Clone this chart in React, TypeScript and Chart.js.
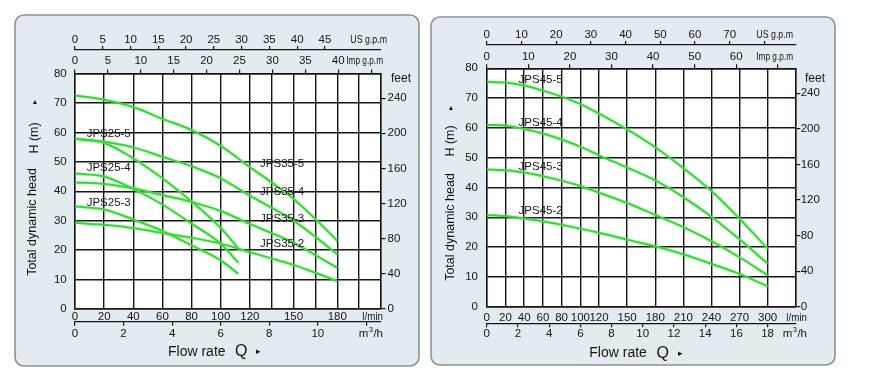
import React, { useEffect, useRef } from 'react';
import { Chart, registerables } from 'chart.js';

Chart.register(...registerables);

const SANS = '"Liberation Sans", Arial, Helvetica, sans-serif';
const INK = '#151515';
const CURVE = 'rgb(56, 214, 56)';
const PANEL_BG = '#e2ebf0';
const PANEL_BORDER = '#87939a';

// ---------------- Left panel: JPS25 / JPS35 ----------------
const flowJPS35 = [0, 20, 40, 60, 80, 100, 120, 135, 150, 165, 180];
const headJPS35_5 = [72.5, 71.1, 68.6, 64.6, 60.8, 55.4, 48.2, 43.0, 37.4, 30.6, 23.2];
const headJPS35_4 = [57.8, 56.8, 54.9, 51.7, 48.5, 44.4, 38.5, 34.4, 30.0, 24.5, 18.6];
const headJPS35_3 = [43.0, 42.5, 41.0, 38.7, 36.4, 33.3, 28.9, 25.8, 22.5, 18.3, 14.0];
const headJPS35_2 = [29.3, 28.6, 27.5, 25.8, 24.2, 22.2, 19.3, 17.2, 15.0, 12.3, 9.5];
const flowJPS25 = [0, 20, 40, 60, 80, 100, 112];
const headJPS25_5 = [57.8, 56.4, 51.2, 44.4, 36.5, 27.5, 20.6];
const headJPS25_4 = [46.0, 45.0, 40.8, 35.5, 29.0, 22.2, 15.7];
const headJPS25_3 = [34.8, 33.8, 30.4, 26.5, 21.6, 16.5, 12.0];

const curveNamesL = ['JPS25-5', 'JPS25-4', 'JPS25-3', 'JPS35-5', 'JPS35-4', 'JPS35-3', 'JPS35-2'];
const curveLabelFlowL = [8, 8, 8, 127, 127, 127, 127];
const curveLabelHeadL = [59.4, 47.8, 35.9, 49.3, 39.8, 30.6, 22.1];

const lpmTicksL = [0, 20, 40, 60, 80, 100, 120, 135, 150, 165, 180, 195, 210];
const lpmLabelsL = ['0', '20', '40', '60', '80', '100', '120', '', '150', '', '180', '', ''];
const m3hTicksL = [0, 2, 4, 6, 8, 10, 12];
const m3hLabelsL = ['0', '2', '4', '6', '8', '10', ''];
const usTicksL = [0, 5, 10, 15, 20, 25, 30, 35, 40, 45];
const usLabelsL = ['0', '5', '10', '15', '20', '25', '30', '35', '40', '45'];
const impTicksL = [0, 5, 10, 15, 20, 25, 30, 35, 40, 45];
const impLabelsL = ['0', '5', '10', '15', '20', '25', '30', '35', '40', ''];

// ---------------- Right panel: JPS45 ----------------
const flowJPS45 = [0, 20, 40, 60, 80, 100, 120, 150, 180, 210, 240, 270, 300];
const headJPS45_5 = [75.5, 75.2, 74.2, 72.5, 70.5, 68.0, 64.8, 59.5, 53.5, 46.5, 38.8, 29.5, 19.5];
const headJPS45_4 = [61.0, 60.8, 59.6, 58.1, 56.1, 53.7, 50.8, 46.7, 42.4, 36.8, 30.2, 22.6, 14.5];
const headJPS45_3 = [46.0, 45.8, 45.0, 43.8, 42.3, 40.5, 38.3, 34.8, 30.8, 26.7, 22.0, 16.6, 10.6];
const headJPS45_2 = [30.8, 30.4, 29.6, 28.7, 27.5, 26.2, 24.8, 22.5, 20.3, 17.6, 14.4, 11.0, 6.8];

const curveNamesR = ['JPS45-5', 'JPS45-4', 'JPS45-3', 'JPS45-2'];
const curveLabelFlowR = [34, 34, 34, 34];
const curveLabelHeadR = [76.1, 61.7, 46.8, 32.1];

const lpmTicksR = [0, 20, 40, 60, 80, 100, 120, 150, 180, 210, 240, 270, 300, 330];
const lpmLabelsR = ['0', '20', '40', '60', '80', '100', '120', '150', '180', '210', '240', '270', '300', ''];
const m3hTicksR = [0, 2, 4, 6, 8, 10, 12, 14, 16, 18];
const m3hLabelsR = ['0', '2', '4', '6', '8', '10', '12', '14', '16', '18'];
const usTicksR = [0, 10, 20, 30, 40, 50, 60, 70, 80];
const usLabelsR = ['0', '10', '20', '30', '40', '50', '60', '70', ''];
const impTicksR = [0, 10, 20, 30, 40, 50, 60, 70];
const impLabelsR = ['0', '10', '20', '30', '40', '50', '60', ''];

// shared
const headTicks = [0, 10, 20, 30, 40, 50, 60, 70, 80];
const headLabels = ['0', '10', '20', '30', '40', '50', '60', '70', '80'];
const feetTicks = [0, 40, 80, 120, 160, 200, 240];
const feetLabels = ['0', '40', '80', '120', '160', '200', '240'];

type Series = { flow: number[]; head: number[] };
type TextSpec = { t: string; x: number; y: number; size: number; align?: CanvasTextAlign; sx?: number; rot?: number };

interface PanelCfg {
  left: number; top: number; w: number; h: number;
  series: Series[];
  names: string[]; nameFlow: number[]; nameHead: number[];
  lpmMax: number; lpmTicks: number[]; lpmLabels: string[];
  m3hMax: number; m3hTicks: number[]; m3hLabels: string[];
  usMax: number; usTicks: number[]; usLabels: string[];
  impMax: number; impTicks: number[]; impLabels: string[];
  feetMax: number;
  yW: number; ftW: number; usH: number; impH: number; lpmH: number; m3hH: number;
  padY: number; padFt: number; padUs: number; padImp: number; padLpm: number; padM3h: number;
  texts: TextSpec[];
  m3hUnit: { x: number; y: number };
}

const tickFont = { family: SANS, size: 11.5, lineHeight: 1 };

function fixedSize(size: number) {
  return (s: any) => {
    if (s.isHorizontal()) s.height = size;
    else s.width = size;
  };
}
function setTicks(vals: number[]) {
  return (s: any) => {
    s.ticks = vals.map((v) => ({ value: v }));
  };
}
function labeler(labels: string[]) {
  return (_v: any, i: number) => labels[i] ?? '';
}

function drawText(ctx: CanvasRenderingContext2D, s: TextSpec) {
  ctx.save();
  ctx.translate(s.x, s.y);
  if (s.rot) ctx.rotate(s.rot);
  ctx.scale(s.sx ?? 1, 1);
  ctx.font = `${s.size}px ${SANS}`;
  ctx.textAlign = s.align ?? 'left';
  ctx.textBaseline = 'middle';
  ctx.fillStyle = INK;
  ctx.fillText(s.t, 0, 0);
  ctx.restore();
}

function drawM3h(ctx: CanvasRenderingContext2D, xRight: number, y: number) {
  const f = 11.5;
  ctx.save();
  ctx.fillStyle = INK;
  ctx.textBaseline = 'middle';
  ctx.textAlign = 'left';
  ctx.font = `${f}px ${SANS}`;
  const wm = ctx.measureText('m').width;
  const ws = ctx.measureText('/h').width;
  ctx.font = `${f * 0.65}px ${SANS}`;
  const w3 = ctx.measureText('3').width;
  let x = xRight - (wm + w3 + ws + 1);
  ctx.font = `${f}px ${SANS}`;
  ctx.fillText('m', x, y);
  x += wm + 0.5;
  ctx.font = `${f * 0.65}px ${SANS}`;
  ctx.fillText('3', x, y - 4.5);
  x += w3 + 0.5;
  ctx.font = `${f}px ${SANS}`;
  ctx.fillText('/h', x, y);
  ctx.restore();
}

function makeDecor(cfg: PanelCfg) {
  return {
    id: 'decor',
    beforeDraw(chart: any) {
      const { ctx, width, height, chartArea: a } = chart;
      ctx.save();
      ctx.beginPath();
      ctx.roundRect(1, 1, width - 2, height - 2, 9);
      ctx.fillStyle = PANEL_BG;
      ctx.fill();
      ctx.lineWidth = 1.6;
      ctx.strokeStyle = PANEL_BORDER;
      ctx.stroke();
      ctx.fillStyle = '#ffffff';
      ctx.fillRect(a.left, a.top, a.right - a.left, a.bottom - a.top);
      ctx.restore();
    },
    beforeDatasetsDraw(chart: any) {
      const ctx = chart.ctx;
      ctx.save();
      ctx.shadowColor = 'rgba(120, 230, 120, 0.8)';
      ctx.shadowBlur = 2.5;
    },
    afterDatasetsDraw(chart: any) {
      const ctx: CanvasRenderingContext2D = chart.ctx;
      ctx.restore();
      const xs = chart.scales.x;
      const ys = chart.scales.y;
      cfg.names.forEach((n, i) => {
        drawText(ctx, {
          t: n,
          x: xs.getPixelForValue(cfg.nameFlow[i]),
          y: ys.getPixelForValue(cfg.nameHead[i]),
          size: 11.5,
        });
      });
      cfg.texts.forEach((t) => drawText(ctx, t));
      drawM3h(ctx, cfg.m3hUnit.x, cfg.m3hUnit.y);
    },
  };
}

function buildConfig(cfg: PanelCfg): any {
  const datasets = cfg.series.map((s) => ({
    data: s.flow.map((f, i) => ({ x: f, y: s.head[i] })),
    borderColor: CURVE,
    borderWidth: 2,
    pointRadius: 0,
    fill: false,
    cubicInterpolationMode: 'monotone',
    xAxisID: 'x',
    yAxisID: 'y',
  }));
  const axisGrid = { drawOnChartArea: false, drawTicks: true, tickLength: 4, color: INK, lineWidth: 1.2 };
  const axisBorder = { display: true, color: INK, width: 1.2 };
  return {
    type: 'line',
    data: { datasets },
    options: {
      responsive: false,
      animation: false,
      devicePixelRatio: 1,
      layout: { padding: 0 },
      plugins: { legend: { display: false }, tooltip: { enabled: false } },
      scales: {
        x: {
          type: 'linear', position: 'bottom', min: 0, max: cfg.lpmMax, weight: 0,
          afterBuildTicks: setTicks(cfg.lpmTicks), afterFit: fixedSize(cfg.lpmH),
          ticks: { callback: labeler(cfg.lpmLabels), padding: cfg.padLpm, font: tickFont, color: INK, maxRotation: 0, autoSkip: false },
          grid: { color: INK, lineWidth: 1.4, drawTicks: false },
          border: { display: true, color: INK, width: 1.4 },
        },
        xm: {
          type: 'linear', position: 'bottom', min: 0, max: cfg.m3hMax, weight: 1,
          afterBuildTicks: setTicks(cfg.m3hTicks), afterFit: fixedSize(cfg.m3hH),
          ticks: { callback: labeler(cfg.m3hLabels), padding: cfg.padM3h, font: tickFont, color: INK, maxRotation: 0, autoSkip: false },
          grid: axisGrid, border: axisBorder,
        },
        ximp: {
          type: 'linear', position: 'top', min: 0, max: cfg.impMax, weight: 0,
          afterBuildTicks: setTicks(cfg.impTicks), afterFit: fixedSize(cfg.impH),
          ticks: { callback: labeler(cfg.impLabels), padding: cfg.padImp, font: tickFont, color: INK, maxRotation: 0, autoSkip: false },
          grid: axisGrid, border: { display: true, color: INK, width: 1.4 },
        },
        xus: {
          type: 'linear', position: 'top', min: 0, max: cfg.usMax, weight: 1,
          afterBuildTicks: setTicks(cfg.usTicks), afterFit: fixedSize(cfg.usH),
          ticks: { callback: labeler(cfg.usLabels), padding: cfg.padUs, font: tickFont, color: INK, maxRotation: 0, autoSkip: false },
          grid: axisGrid, border: axisBorder,
        },
        y: {
          type: 'linear', position: 'left', min: 0, max: 80, weight: 0,
          afterBuildTicks: setTicks(headTicks), afterFit: fixedSize(cfg.yW),
          ticks: { callback: labeler(headLabels), padding: cfg.padY, font: tickFont, color: INK, autoSkip: false },
          grid: { color: INK, lineWidth: 1.4, drawTicks: false },
          border: { display: true, color: INK, width: 1.4 },
        },
        yft: {
          type: 'linear', position: 'right', min: 0, max: cfg.feetMax, weight: 0,
          afterBuildTicks: setTicks(feetTicks), afterFit: fixedSize(cfg.ftW),
          ticks: { callback: labeler(feetLabels), padding: cfg.padFt, font: tickFont, color: INK, autoSkip: false },
          grid: { drawOnChartArea: false, drawTicks: true, tickLength: 4.5, color: INK, lineWidth: 1.2 },
          border: { display: true, color: INK, width: 1.4 },
        },
      },
    },
    plugins: [makeDecor(cfg)],
  };
}

const ROT = -Math.PI / 2;

const leftCfg: PanelCfg = {
  left: 14, top: 14, w: 406, h: 353,
  series: [
    { flow: flowJPS35, head: headJPS35_5 },
    { flow: flowJPS35, head: headJPS35_4 },
    { flow: flowJPS35, head: headJPS35_3 },
    { flow: flowJPS35, head: headJPS35_2 },
    { flow: flowJPS25, head: headJPS25_5 },
    { flow: flowJPS25, head: headJPS25_4 },
    { flow: flowJPS25, head: headJPS25_3 },
  ],
  names: curveNamesL, nameFlow: curveLabelFlowL, nameHead: curveLabelHeadL,
  lpmMax: 210, lpmTicks: lpmTicksL, lpmLabels: lpmLabelsL,
  m3hMax: 12.6, m3hTicks: m3hTicksL, m3hLabels: m3hLabelsL,
  usMax: 55.1, usTicks: usTicksL, usLabels: usLabelsL,
  impMax: 46.5, impTicks: impTicksL, impLabels: impLabelsL,
  feetMax: 268,
  yW: 61, ftW: 39, usH: 36, impH: 23.5, lpmH: 12.7, m3hH: 45.3,
  padY: 8.3, padFt: 2, padUs: 0.75, padImp: 2.75, padLpm: 2.25, padM3h: 2.5,
  texts: [
    { t: 'US g.p.m', x: 373, y: 26, size: 11, align: 'right', sx: 0.8 },
    { t: 'Imp g.p.m', x: 369, y: 47, size: 11, align: 'right', sx: 0.75 },
    { t: 'feet', x: 387, y: 65, size: 12, align: 'center' },
    { t: 'l/min', x: 369, y: 303, size: 11.5, align: 'right', sx: 0.85 },
    { t: 'Flow rate', x: 154, y: 337.7, size: 14 },
    { t: 'Q', x: 221, y: 337.7, size: 16 },
    { t: '▸', x: 242, y: 337.7, size: 9 },
    { t: 'Total dynamic head', x: 19, y: 208, size: 12.5, align: 'center', rot: ROT },
    { t: 'H (m)', x: 21, y: 124, size: 12.5, align: 'center', rot: ROT },
    { t: '▸', x: 21, y: 88, size: 8, align: 'center', rot: ROT },
  ],
  m3hUnit: { x: 369, y: 320 },
};

const rightCfg: PanelCfg = {
  left: 430, top: 16, w: 406, h: 350,
  series: [
    { flow: flowJPS45, head: headJPS45_5 },
    { flow: flowJPS45, head: headJPS45_4 },
    { flow: flowJPS45, head: headJPS45_3 },
    { flow: flowJPS45, head: headJPS45_2 },
  ],
  names: curveNamesR, nameFlow: curveLabelFlowR, nameHead: curveLabelHeadR,
  lpmMax: 330, lpmTicks: lpmTicksR, lpmLabels: lpmLabelsR,
  m3hMax: 19.8, m3hTicks: m3hTicksR, m3hLabels: m3hLabelsR,
  usMax: 89, usTicks: usTicksR, usLabels: usLabelsR,
  impMax: 74.3, impTicks: impTicksR, impLabels: impLabelsR,
  feetMax: 268,
  yW: 56.7, ftW: 40.3, usH: 29, impH: 23.3, lpmH: 16.6, m3hH: 42.7,
  padY: 8.7, padFt: 0.5, padUs: 0.25, padImp: 1.85, padLpm: 5.5, padM3h: 0.75,
  texts: [
    { t: 'US g.p.m', x: 363, y: 19, size: 11, align: 'right', sx: 0.8 },
    { t: 'Imp g.p.m', x: 363, y: 40.7, size: 11, align: 'right', sx: 0.75 },
    { t: 'feet', x: 385, y: 62.3, size: 12, align: 'center' },
    { t: 'l/min', x: 377, y: 302, size: 11.5, align: 'right', sx: 0.85 },
    { t: 'Flow rate', x: 159.3, y: 337.3, size: 14 },
    { t: 'Q', x: 226.5, y: 337.3, size: 16 },
    { t: '▸', x: 247.5, y: 337.3, size: 9 },
    { t: 'Total dynamic head', x: 20.7, y: 211, size: 12.5, align: 'center', rot: ROT },
    { t: 'H (m)', x: 21, y: 125, size: 12.5, align: 'center', rot: ROT },
    { t: '▸', x: 21, y: 92, size: 8, align: 'center', rot: ROT },
  ],
  m3hUnit: { x: 377, y: 318 },
};

function PanelChart({ cfg }: { cfg: PanelCfg }) {
  const ref = useRef<HTMLCanvasElement>(null);
  useEffect(() => {
    const chart = new Chart(ref.current as HTMLCanvasElement, buildConfig(cfg));
    return () => chart.destroy();
  }, [cfg]);
  return (
    <canvas
      ref={ref}
      width={cfg.w}
      height={cfg.h}
      style={{ position: 'absolute', left: cfg.left, top: cfg.top, width: cfg.w, height: cfg.h }}
    />
  );
}

export default function App() {
  return (
    <div style={{ position: 'fixed', left: 0, top: 0, width: 869, height: 372, background: '#ffffff', overflow: 'hidden' }}>
      <PanelChart cfg={leftCfg} />
      <PanelChart cfg={rightCfg} />
    </div>
  );
}
